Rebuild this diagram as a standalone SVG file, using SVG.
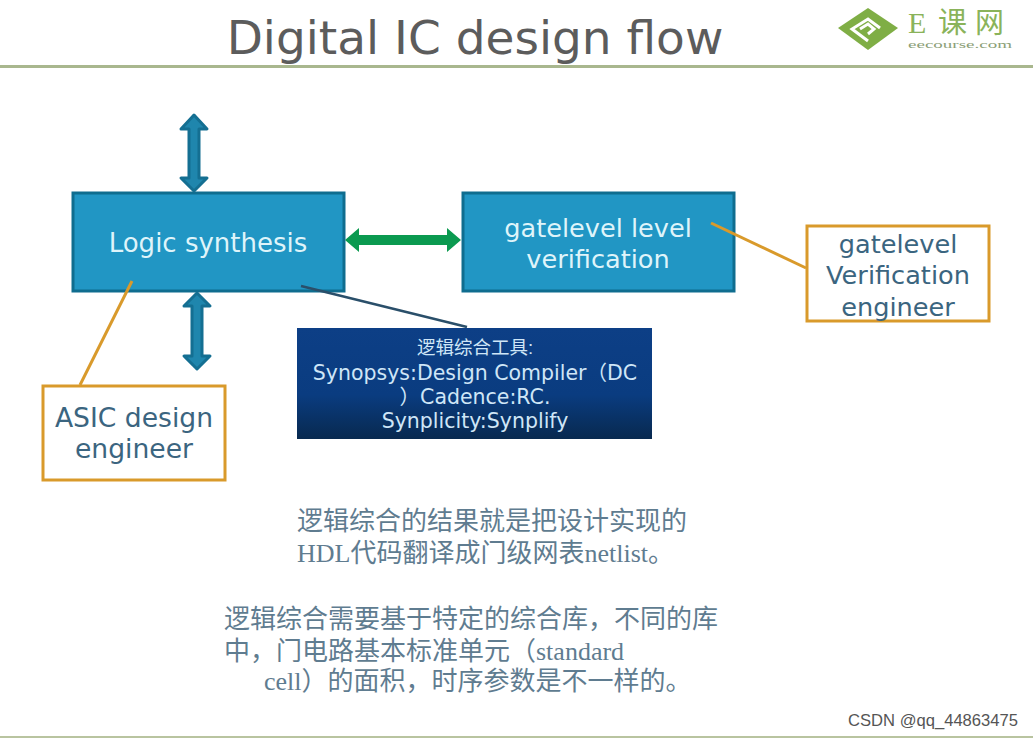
<svg xmlns="http://www.w3.org/2000/svg" width="1033" height="738" viewBox="0 0 1033 738">
<style>
text{font-family:"DejaVu Sans","Noto Sans CJK SC",sans-serif}
.box{fill:#2196c4;stroke:#0f6d8f;stroke-width:3}
.w{fill:#dff4fa;text-anchor:middle;font-size:25.6px}
.call{fill:#fff;stroke:#d99a2b;stroke-width:3}
.d{fill:#3b6580;text-anchor:middle;font-size:25.6px}
.arr{fill:#1f86ad;stroke:#146f92;stroke-width:3;stroke-linejoin:round}
.lead{stroke:#d99a2b;stroke-width:3;fill:none}
.t{fill:#5f7c90;font-family:"Liberation Serif","Noto Sans CJK SC",serif;font-size:26px}
.dk{fill:#cfe6f7;text-anchor:middle;font-size:20.5px}
</style>
<defs><linearGradient id="g" x1="0" y1="0" x2="0" y2="1"><stop offset="0" stop-color="#0d3f86"/><stop offset="0.6" stop-color="#0a3c80"/><stop offset="1" stop-color="#08294f"/></linearGradient></defs>
<rect width="1033" height="738" fill="#fff"/>
<rect x="0" y="65" width="1033" height="3" fill="#a9b78e"/>
<rect x="0" y="736" width="1033" height="2" fill="#b9c4a0"/>
<g id="title"><text x="475" y="54" text-anchor="middle" font-size="47" fill="#5c5c5c">Digital IC design flow</text></g>
<g id="logo">
<path d="M868 8L898 28L868 50L838 28Z" fill="#7fae45"/>
<path d="M880 28L868 19L852 29L868 41M860 29L868 24L874 29L868 34" fill="none" stroke="#fff" stroke-width="3"/>
<text x="908" y="33" font-size="30" fill="#8ab35a" style="font-family:'Liberation Serif',serif">E</text>
<text x="938" y="33" font-size="29" letter-spacing="8" fill="#8ab35a" style="font-family:'Liberation Serif','Noto Sans CJK SC',serif">课网</text>
<text x="908" y="48" font-size="10" textLength="104" lengthAdjust="spacingAndGlyphs" fill="#8c9f78" style="font-family:'Liberation Serif',serif">eecourse.com</text>
</g>
<g id="logic-synthesis"><rect class="box" x="73" y="193" width="271" height="98"/><text class="w" x="208" y="252" style="font-size:26px">Logic synthesis</text></g>
<g id="gatelevel-verification"><rect class="box" x="463" y="193" width="271" height="98"/><text class="w" x="598" y="237">gatelevel level</text><text class="w" x="598" y="268">verification</text></g>
<g id="gatelevel-engineer"><rect class="call" x="807" y="226" width="182" height="95"/><text class="d" x="898" y="253">gatelevel</text><text class="d" x="898" y="284">Verification</text><text class="d" x="898" y="316">engineer</text></g>
<g id="asic-engineer"><rect class="call" x="43" y="386" width="182" height="94"/><text class="d" x="134" y="427" style="font-size:26.6px">ASIC design</text><text class="d" x="134" y="458" style="font-size:26.6px">engineer</text></g>
<g id="tools"><rect x="297" y="328" width="355" height="111" fill="url(#g)"/>
<text class="dk" x="475" y="354" style="font-size:18.5px;font-family:'Liberation Sans','Noto Sans CJK SC',sans-serif">逻辑综合工具:</text>
<text class="dk" x="475" y="380">Synopsys:Design Compiler（DC</text>
<text class="dk" x="475" y="404">）Cadence:RC.</text>
<text class="dk" x="475" y="428">Synplicity:Synplify</text></g>
<g id="notes">
<text class="t" x="297" y="530">逻辑综合的结果就是把设计实现的</text>
<text class="t" x="297" y="562">HDL代码翻译成门级网表netlist。</text>
<text class="t" x="224" y="628">逻辑综合需要基于特定的综合库，不同的库</text>
<text class="t" x="224" y="660">中，门电路基本标准单元（standard</text>
<text class="t" x="264" y="690">cell）的面积，时序参数是不一样的。</text>
</g>
<g id="connectors">
<path class="arr" d="M194 115L207 129H199V178H207L194 191L181 178H189V129H181Z"/>
<path class="arr" d="M197 293L210 306H202V356H210L197 369L184 356H192V306H184Z"/>
<path d="M345 240L359 228V235H447V228L461 240L447 252V245H359V252Z" fill="#0b9a50"/>
<path class="lead" d="M132 281L80 385"/>
<path class="lead" d="M711 223L806 268"/>
<path d="M301 286L467 327" stroke="#2a4f6a" stroke-width="2.5" fill="none"/>
</g>
<g id="watermark"><text x="1018" y="726" text-anchor="end" font-size="16.6" fill="#555" style="font-family:'Liberation Sans',sans-serif">CSDN @qq_44863475</text></g>
</svg>
